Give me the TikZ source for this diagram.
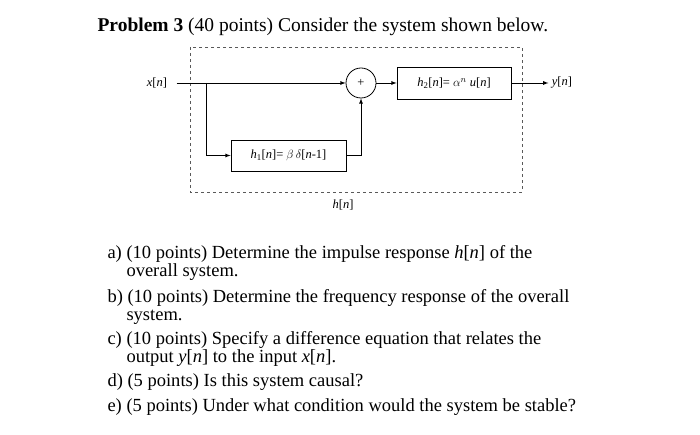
\documentclass[tikz,border=0pt]{standalone}
\usepackage{fontspec}
\setmainfont{Liberation Serif}
\begin{document}
\begin{tikzpicture}[x=1pt,y=-1pt,>=latex,
  blk/.style={draw,thick,minimum height=31pt,inner sep=1pt,font=\fontsize{12.5}{13}\selectfont},
  lbl/.style={font=\fontsize{12.5}{13}\selectfont},
  q/.style={anchor=west,font=\fontsize{18.5}{18}\selectfont,align=left}]
\useasboundingbox (0,0) rectangle (700,435);
\node[anchor=west,font=\fontsize{19.5}{18}\selectfont] (title) at (94,27) {\textbf{Problem 3} (40 points) Consider the system shown below.};
\draw[dashed,gray!70!black,thick] (190,47) rectangle (522,192);
\node[lbl] (x) at (157,83) {\textit{x}[\textit{n}]};
\node[blk,minimum width=115pt] (h1) at (288.5,155.5) {\textit{h}\textsubscript{1}[\textit{n}]= $\beta\,\delta$[\textit{n}-1]};
\node[blk,minimum width=114pt,minimum height=32pt] (h2) at (454,83) {\textit{h}\textsubscript{2}[\textit{n}]= $\alpha^{n}$ \textit{u}[\textit{n}]};
\node[draw,thick,circle,minimum size=30pt,inner sep=0pt,lbl] (s) at (361,83) {+};
\node[lbl] (y) at (562,83) {\textit{y}[\textit{n}]};
\node[lbl] (h) at (343,205) {\textit{h}[\textit{n}]};
\coordinate (b) at (206,83);
\draw[thick,->] (x.east) ++(6,0) -- (s.west);
\draw[thick,->] (b) |- (h1.west);
\draw[thick,->] (h1.east) -| (s.south);
\draw[thick,->] (s) -- (h2.west);
\draw[thick,->] (h2.east) -- (y.west);
\node[q] (a) at (104,263) {a) (10 points) Determine the impulse response \textit{h}[\textit{n}] of the\\\hspace{19pt}overall system.};
\node[q] (bq) at (104,307) {b) (10 points) Determine the frequency response of the overall\\\hspace{19pt}system.};
\node[q] (c) at (104,349) {c) (10 points) Specify a difference equation that relates the\\\hspace{19pt}output \textit{y}[\textit{n}] to the input \textit{x}[\textit{n}].};
\node[q] (d) at (104,382) {d) (5 points) Is this system causal?};
\node[q] (e) at (104,407) {e) (5 points) Under what condition would the system be stable?};
\end{tikzpicture}
\end{document}
